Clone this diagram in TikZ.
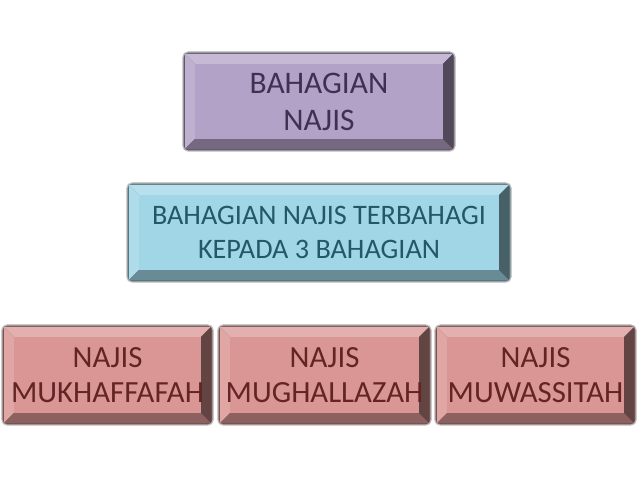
\documentclass[tikz,border=0pt]{standalone}
\usepackage{fontspec}
\setmainfont{Carlito}
\definecolor{purp}{HTML}{B3A2C7}
\definecolor{purptext}{HTML}{3F3151}
\definecolor{cyanb}{HTML}{A0D6E6}
\definecolor{cyantext}{HTML}{215968}
\definecolor{pinkb}{HTML}{D99694}
\definecolor{pinktext}{HTML}{632523}
\tikzset{
  boxtext/.style={align=center, inner sep=0pt},
}
% name, x1, y1, x2, y2, colour, text colour, text, {size}{baselineskip}
\newcommand\bevbox[9]{%
  \fill[#6!55!black, rounded corners=5pt] (#2,#3) rectangle (#4,#5);
  \fill[#6!75!white] (#2+2,#3+2) -- (#4-2,#3+2) -- (#4-12,#3+12) -- (#2+12,#3+12) -- cycle;
  \fill[#6!85!white] (#2+2,#3+2) -- (#2+12,#3+12) -- (#2+12,#5-12) -- (#2+2,#5-2) -- cycle;
  \fill[#6!65!black] (#2+2,#5-2) -- (#2+12,#5-12) -- (#4-12,#5-12) -- (#4-2,#5-2) -- cycle;
  \fill[#6!45!black] (#4-2,#3+2) -- (#4-2,#5-2) -- (#4-12,#5-12) -- (#4-12,#3+12) -- cycle;
  \fill[#6] (#2+12,#3+12) rectangle (#4-12,#5-12);
  \draw[gray!55, line width=1.2pt, rounded corners=5pt] (#2,#3) rectangle (#4,#5);
  \node[boxtext, text=#7, font=\fontsize#9\selectfont] (#1) at ({(#2+#4)/2},{(#3+#5)/2}) {#8};
}
\begin{document}
\begin{tikzpicture}[x=1pt,y=-1pt]
\useasboundingbox[fill=white] (0,0) rectangle (638,478);
\bevbox{top}{183}{52}{455}{151}{purp}{purptext}{BAHAGIAN\\NAJIS}{{31.4}{37}}
\bevbox{mid}{127}{183}{511}{282}{cyanb}{cyantext}{BAHAGIAN NAJIS TERBAHAGI\\KEPADA 3 BAHAGIAN}{{28.2}{34}}
\bevbox{b1}{2}{325}{213}{425}{pinkb}{pinktext}{NAJIS\\MUKHAFFAFAH}{{30.8}{35}}
\bevbox{b2}{218}{325}{431}{425}{pinkb}{pinktext}{NAJIS\\MUGHALLAZAH}{{30.8}{35}}
\bevbox{b3}{435}{325}{636}{425}{pinkb}{pinktext}{NAJIS\\MUWASSITAH}{{30.8}{35}}
\end{tikzpicture}
\end{document}
